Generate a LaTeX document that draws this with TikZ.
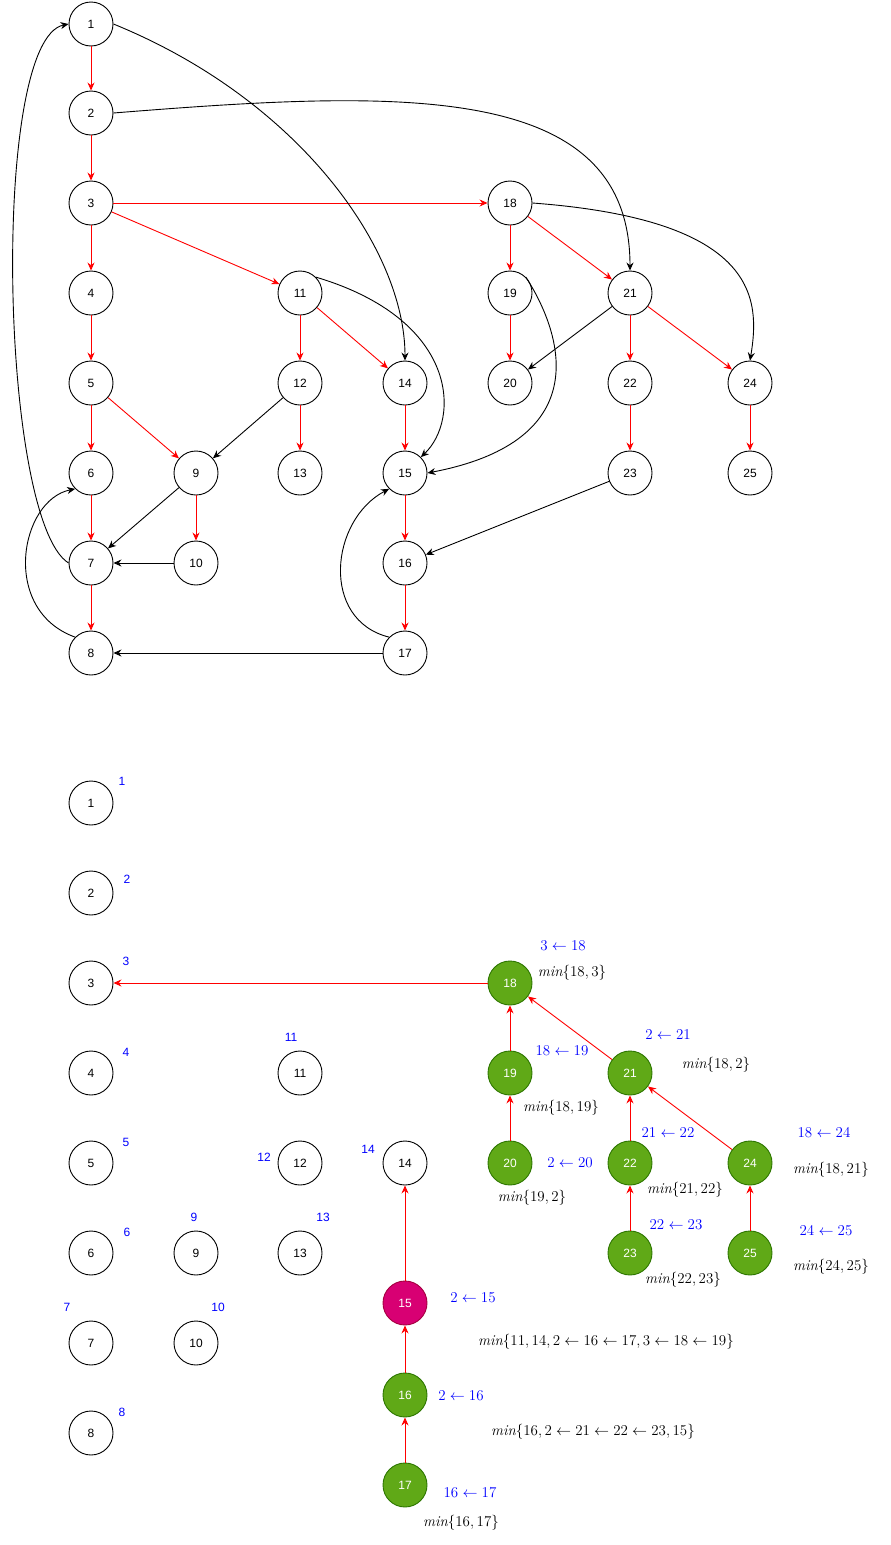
\RequirePackage{fix-cm}
\documentclass[tikz,border=0pt]{standalone}
\usepackage{fontspec}
\newfontfamily\hv{Liberation Sans}
\usetikzlibrary{arrows.meta}
\begin{document}
\begin{tikzpicture}[x=1pt,y=-1pt,line width=0.9pt,
 n/.style={circle,draw,minimum size=44pt,inner sep=0pt,font=\hv\fontsize{12}{12}\selectfont},
 g/.style={n,fill={rgb,255:red,96;green,169;blue,23},draw={rgb,255:red,45;green,118;blue,0},text=white},
 m/.style={n,fill={rgb,255:red,216;green,0;blue,115},draw={rgb,255:red,165;green,0;blue,64},text=white},
 r/.style={-{Stealth[length=8pt,width=7pt]},draw=red},
 b/.style={-{Stealth[length=8pt,width=7pt]},draw=black},
 bl/.style={blue,font=\hv\fontsize{12}{12}\selectfont},
 ab/.style={blue,font=\fontsize{15}{15}\selectfont},
 mn/.style={font=\fontsize{15}{15}\selectfont}]
\useasboundingbox (0,0) rectangle (891,1545);
% top graph
\foreach \i/\x/\y in {1/91/24,2/91/113,3/91/203,4/91/293,5/91/383,6/91/473,7/91/563,8/91/653,9/196/473,10/196/563,11/300/293,12/300/383,13/300/473,14/405/383,15/405/473,16/405/563,17/405/653,18/510/203,19/510/293,20/510/383,21/630/293,22/630/383,23/630/473,24/750/383,25/750/473}
  \node[n] (t\i) at (\x,\y) {\i};
\foreach \a/\c in {1/2,2/3,3/4,4/5,5/6,6/7,7/8,3/18,3/11,5/9,9/10,11/12,11/14,12/13,14/15,15/16,16/17,18/19,18/21,19/20,21/22,21/24,22/23,24/25}
  \draw[r] (t\a) -- (t\c);
\foreach \a/\c in {21/20,12/9,9/7,10/7,17/8,23/16}
  \draw[b] (t\a) -- (t\c);
\draw[b] (t1.east) .. controls (300,100) and (405,250) .. (t14.north);
\draw[b] (t2.east) .. controls (400,90) and (630,80) .. (t21.north);
\draw[b] (t18.east) .. controls (760,220) and (760,300) .. (t24.north);
\draw[b] (t7.west) .. controls (0,520) and (-10,40) .. (t1.west);
\draw[b] (t8.north west) .. controls (0,610) and (20,500) .. (t6.south west);
\draw[b] (t17.north west) .. controls (320,620) and (330,520) .. (t15.south west);
\draw[b] (t11.north east) .. controls (460,320) and (460,420) .. (t15.north east);
\draw[b] (t19.north east) .. controls (560,330) and (600,440) .. (t15.east);
% bottom
\foreach \i/\x/\y in {1/91/803,2/91/893,3/91/983,4/91/1073,5/91/1163,6/91/1253,7/91/1343,8/91/1433,9/196/1253,10/196/1343,11/300/1073,12/300/1163,13/300/1253,14/405/1163}
  \node[n] (b\i) at (\x,\y) {\i};
\foreach \i/\x/\y in {16/405/1395,17/405/1485,18/510/983,19/510/1073,20/510/1163,21/630/1073,22/630/1163,23/630/1253,24/750/1163,25/750/1253}
  \node[g] (b\i) at (\x,\y) {\i};
\node[m] (b15) at (405,1303) {15};
\foreach \a/\c in {18/3,19/18,20/19,21/18,22/21,23/22,24/21,25/24,15/14,16/15,17/16}
  \draw[r] (b\a) -- (b\c);
\foreach \t/\x/\y in {1/122/781,2/127/879,3/126/961,4/126/1052,5/126/1142,6/127/1232,7/67/1307,8/122/1412,9/194/1217,10/218/1307,11/291/1037,12/264/1157,13/323/1217,14/368/1149}
  \node[bl] (l\t) at (\x,\y) {\t};
\node[ab] (a1) at (563,946) {$3\leftarrow18$};
\node[mn] (m1) at (572,973) {$\mathit{min}\{18,3\}$};
\node[ab] (a2) at (562,1051) {$18\leftarrow19$};
\node[mn] (m2) at (561,1108) {$\mathit{min}\{18,19\}$};
\node[ab] (a3) at (668,1035) {$2\leftarrow21$};
\node[mn] (m3) at (716,1065) {$\mathit{min}\{18,2\}$};
\node[ab] (a4) at (570,1163) {$2\leftarrow20$};
\node[mn] (m4) at (532,1198) {$\mathit{min}\{19,2\}$};
\node[ab] (a5) at (668,1133) {$21\leftarrow22$};
\node[mn] (m5) at (685,1190) {$\mathit{min}\{21,22\}$};
\node[ab] (a6) at (824,1133) {$18\leftarrow24$};
\node[mn] (m6) at (831,1170) {$\mathit{min}\{18,21\}$};
\node[ab] (a7) at (676,1225) {$22\leftarrow23$};
\node[mn] (m7) at (683,1280) {$\mathit{min}\{22,23\}$};
\node[ab] (a8) at (826,1231) {$24\leftarrow25$};
\node[mn] (m8) at (831,1267) {$\mathit{min}\{24,25\}$};
\node[ab] (a9) at (473,1298) {$2\leftarrow15$};
\node[mn] (m9) at (606,1342) {$\mathit{min}\{11,14,2\leftarrow16\leftarrow17,3\leftarrow18\leftarrow19\}$};
\node[ab] (a10) at (461,1396) {$2\leftarrow16$};
\node[mn] (m10) at (593,1432) {$\mathit{min}\{16,2\leftarrow21\leftarrow22\leftarrow23,15\}$};
\node[ab] (a11) at (470,1493) {$16\leftarrow17$};
\node[mn] (m11) at (461,1523) {$\mathit{min}\{16,17\}$};
\end{tikzpicture}
\end{document}
